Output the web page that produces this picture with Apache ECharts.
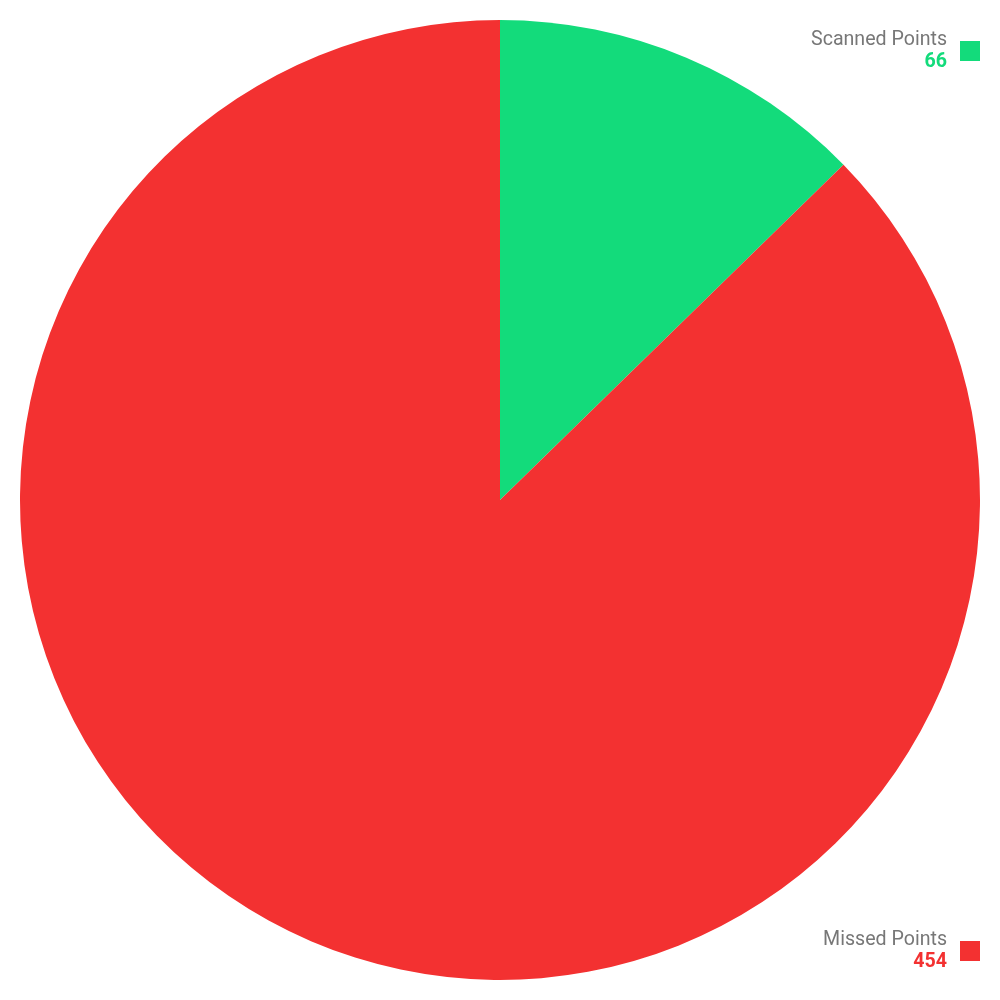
<!DOCTYPE html>
<html>
<head>
<meta charset="utf-8">
<script src="https://cdn.jsdelivr.net/npm/echarts@6/dist/echarts.min.js"></script>
<style>html,body{margin:0;padding:0;background:#fff}#c{width:1000px;height:1000px}</style>
</head>
<body>
<div id="c"></div>
<script>
const categories = ['Scanned Points', 'Missed Points'];
const values = [66, 454];
const colors = ['#13db7b', '#f33131'];

const chart = echarts.init(document.getElementById('c'));
const rich = {
  n: { color: '#777777', fontSize: 19.6, fontFamily: 'Roboto', lineHeight: 22, align: 'right', padding: [0, 8, 0, 0] },
  v0: { color: colors[0], fontSize: 19.6, fontWeight: 'bold', fontFamily: 'Roboto', lineHeight: 22, align: 'right', padding: [0, 8, 0, 0] },
  v1: { color: colors[1], fontSize: 19.6, fontWeight: 'bold', fontFamily: 'Roboto', lineHeight: 22, align: 'right', padding: [0, 8, 0, 0] }
};
function fmt(name) {
  const i = categories.indexOf(name);
  return '{n|' + name + '}\n{v' + i + '|' + values[i] + '}';
}
const legendBase = {
  orient: 'vertical', align: 'right', right: 20, padding: 0,
  icon: 'rect', itemWidth: 20, itemHeight: 20,
  formatter: fmt, textStyle: { fontSize: 19.6, fontFamily: 'Roboto', lineHeight: 22, rich: rich }
};
chart.setOption({
  animation: false,
  color: colors,
  legend: [
    Object.assign({}, legendBase, { data: [categories[0]], top: 29 }),
    Object.assign({}, legendBase, { data: [categories[1]], top: 929 })
  ],
  series: [{
    type: 'pie',
    center: ['50%', '50%'],
    radius: 480,
    startAngle: 90,
    clockwise: true,
    label: { show: false },
    labelLine: { show: false },
    itemStyle: { borderWidth: 0 },
    emphasis: { disabled: true },
    data: categories.map((c, i) => ({ name: c, value: values[i] }))
  }]
});
</script>
</body>
</html>
